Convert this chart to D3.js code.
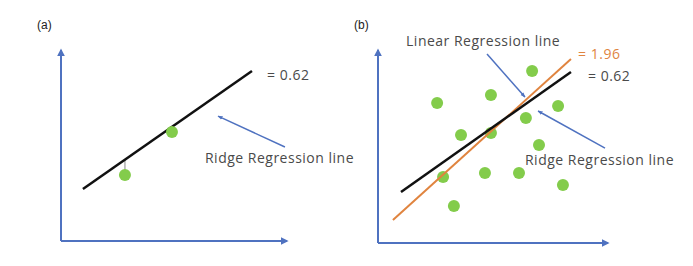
<!DOCTYPE html>
<html lang="en">
<head>
    <meta charset="UTF-8">
    <title>Ridge vs Linear Regression</title>
    <script src="https://d3js.org/d3.v7.min.js"></script>
    <style>
        body { margin: 0; background: #fff; }
    </style>
</head>
<body>
    <svg width="693" height="266"></svg>

    <script>
        // Data (both panels share a 0-100 data space)
        const pointsA = [[28.3, 34.6], [49.1, 57.1]];
        const ridgeLineA = [[9.7, 27.2], [84.5, 89.0]];

        const pointsB = [
            [25.7, 72.5], [49.1, 76.7], [67.0, 89.1], [78.3, 71.0], [64.3, 64.8],
            [36.1, 56.0], [49.1, 57.0], [70.0, 50.8], [28.3, 34.2], [46.5, 36.3],
            [61.3, 36.3], [80.4, 30.1], [33.0, 19.2]
        ];
        const ridgeLineB = [[10.0, 26.4], [83.9, 88.6]];
        const linearLineB = [[6.5, 11.9], [83.9, 95.3]];

        const slopeLabels = ["= 0.62", "= 1.96"];

        const svg = d3.select("svg");

        const blue = "#4f72c0";
        const green = "#83cc4b";
        const orange = "#e0843f";
        const textGrey = "#4a4a4a";

        // arrow markers
        const defs = svg.append("defs");
        defs.append("marker")
            .attr("id", "axisHead")
            .attr("viewBox", "0 0 10 10")
            .attr("refX", 8).attr("refY", 5)
            .attr("markerWidth", 4).attr("markerHeight", 4)
            .attr("orient", "auto")
            .append("path").attr("d", "M0,0L10,5L0,10z").attr("fill", blue);
        defs.append("marker")
            .attr("id", "noteHead")
            .attr("viewBox", "0 0 10 10")
            .attr("refX", 9).attr("refY", 5)
            .attr("markerWidth", 5).attr("markerHeight", 5)
            .attr("markerUnits", "userSpaceOnUse")
            .attr("orient", "auto")
            .append("path").attr("d", "M0,1L10,5L0,9z").attr("fill", blue);

        function panel(cfg) {
            const x = d3.scaleLinear().domain([0, 100]).range([cfg.x0, cfg.x0 + cfg.w]);
            const y = d3.scaleLinear().domain([0, 100]).range([cfg.y0, cfg.y0 - cfg.h]);
            const g = svg.append("g");
            const line = d3.line().x(d => x(d[0])).y(d => y(d[1]));

            // panel label
            g.append("text")
                .attr("x", cfg.x0 - 24).attr("y", 29)
                .attr("font-family", "Liberation Sans, Arial, sans-serif")
                .attr("font-size", 12).attr("fill", "#222")
                .text(cfg.label);

            // axes with arrowheads
            g.append("path").attr("d", line([[0, 0], [0, 100]]))
                .attr("stroke", blue).attr("stroke-width", 2).attr("fill", "none")
                .attr("marker-end", "url(#axisHead)");
            g.append("path").attr("d", line([[0, 0], [100, 0]]))
                .attr("stroke", blue).attr("stroke-width", 2).attr("fill", "none")
                .attr("marker-end", "url(#axisHead)");

            return {x, y, g, line};
        }

        function note(p, text, at, color) {
            p.g.append("text")
                .attr("x", p.x(at[0])).attr("y", p.y(at[1]))
                .attr("font-family", "'Open Sans', sans-serif")
                .attr("font-size", 14).attr("letter-spacing", 0.5)
                .attr("fill", color || textGrey)
                .text(text);
        }

        function arrow(p, from, to) {
            p.g.append("path").attr("d", p.line([from, to]))
                .attr("stroke", blue).attr("stroke-width", 1.5).attr("fill", "none")
                .attr("marker-end", "url(#noteHead)");
        }

        // ---- Panel (a)
        const a = panel({label: "(a)", x0: 61, y0: 241, w: 226, h: 191});
        // residual stub from point to the line
        const slopeA = (ridgeLineA[1][1] - ridgeLineA[0][1]) / (ridgeLineA[1][0] - ridgeLineA[0][0]);
        const onLineA = p => ridgeLineA[0][1] + (p[0] - ridgeLineA[0][0]) * slopeA;
        a.g.selectAll(".resid").data(pointsA.filter(p => onLineA(p) > p[1])).enter()
            .append("line")
            .attr("x1", d => a.x(d[0])).attr("x2", d => a.x(d[0]))
            .attr("y1", d => a.y(d[1])).attr("y2", d => a.y(onLineA(d)))
            .attr("stroke", "#888").attr("stroke-width", 1);
        a.g.append("path").attr("d", a.line(ridgeLineA))
            .attr("stroke", "#111").attr("stroke-width", 2.5).attr("fill", "none");
        a.g.selectAll("circle").data(pointsA).enter().append("circle")
            .attr("cx", d => a.x(d[0])).attr("cy", d => a.y(d[1]))
            .attr("r", 6).attr("fill", green);
        note(a, slopeLabels[0], [91.2, 84.3]);
        arrow(a, [99.1, 49.2], [69.5, 65.4]);
        note(a, "Ridge Regression line", [63.7, 40.8]);

        // ---- Panel (b)
        const b = panel({label: "(b)", x0: 378, y0: 243, w: 230, h: 193});
        b.g.selectAll("circle").data(pointsB).enter().append("circle")
            .attr("cx", d => b.x(d[0])).attr("cy", d => b.y(d[1]))
            .attr("r", 6).attr("fill", green);
        b.g.append("path").attr("d", b.line(linearLineB))
            .attr("stroke", orange).attr("stroke-width", 2).attr("fill", "none");
        b.g.append("path").attr("d", b.line(ridgeLineB))
            .attr("stroke", "#111").attr("stroke-width", 2.5).attr("fill", "none");
        note(b, "Linear Regression line", [12.2, 102.1]);
        note(b, slopeLabels[1], [87.0, 95.3], orange);
        note(b, slopeLabels[0], [91.3, 83.9]);
        arrow(b, [47.4, 97.9], [63.9, 75.6]);
        arrow(b, [98.7, 49.2], [69.6, 68.4]);
        note(b, "Ridge Regression line", [63.9, 40.4]);
    </script>
</body>
</html>
